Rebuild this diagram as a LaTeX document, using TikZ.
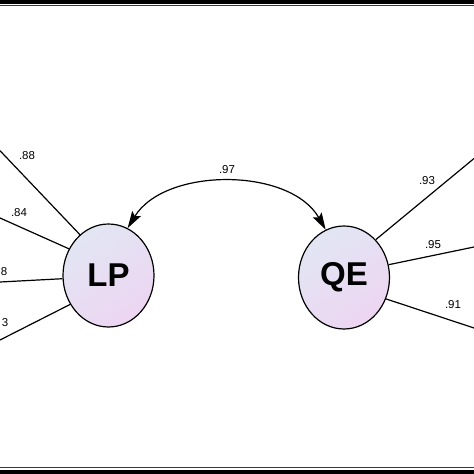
\documentclass[tikz,border=0pt]{standalone}
\usepackage{fontspec}
\setmainfont{Liberation Sans}
\usetikzlibrary{arrows.meta,shapes.geometric}
\definecolor{latentA}{RGB}{226,230,243}
\definecolor{latentB}{RGB}{237,213,242}

\begin{document}
\begin{tikzpicture}[x=1pt,y=-1pt,
    latent/.style={ellipse,draw,line width=1.2pt,minimum width=91pt,minimum height=103pt,
      inner sep=0pt,top color=latentA,bottom color=latentB,shading angle=35,
      font=\fontsize{33}{35}\selectfont\bfseries},
    path/.style={line width=1.2pt},
    covpath/.style={line width=1.2pt,
      arrows={Stealth[length=17pt,width=10pt,inset=3pt]-Stealth[length=17pt,width=10pt,inset=3pt]}},
    coef/.style={font=\fontsize{11.5}{13}\selectfont,inner sep=0pt}]
  \useasboundingbox (0,0) rectangle (474,474);
  % frame bars top and bottom
  \fill[black] (0,0) rectangle (474,3.8);
  \draw[gray!45!black,line width=1.2pt] (0,5.8) -- (474,5.8);
  \draw[gray!45!black,line width=1.2pt] (0,467.5) -- (474,467.5);
  \fill[black] (0,470) rectangle (474,474);

  \node[latent] (lp) at (108.5,275.5) {LP};
  \node[latent] (qe) at (344,277.5) {QE};

  % indicator ends, left and right
  \coordinate (l1) at (0,150.7);
  \coordinate (l2) at (0,218);
  \coordinate (l3) at (0,282);
  \coordinate (l4) at (0,340);
  \coordinate (r1) at (474,158.5);
  \coordinate (r2) at (474,247);
  \coordinate (r3) at (474,328);

  \draw[path] (l1) -- (lp.125);
  \draw[path] (l2) -- (lp.146);
  \draw[path] (l3) -- (lp.184);
  \draw[path] (l4) -- (lp.217);
  \draw[path] (r1) -- (qe.50);
  \draw[path] (r2) -- (qe.16);
  \draw[path] (r3) -- (qe.333);

  \node[coef] (c1) at (27,156) {.88};
  \node[coef] (c2) at (19,213) {.84};
  \node[coef,anchor=east] (c3) at (7.5,272) {8};
  \node[coef,anchor=east] (c4) at (8.5,323) {3};
  \node[coef] (c5) at (427,181) {.93};
  \node[coef] (c6) at (433,245) {.95};
  \node[coef] (c7) at (453,305) {.91};

  % covariance
  \draw[covpath] (lp.68) .. controls (165,167) and (290,167) .. (qe.111);
  \node[coef] (cov) at (227,170) {.97};
\end{tikzpicture}
\end{document}
